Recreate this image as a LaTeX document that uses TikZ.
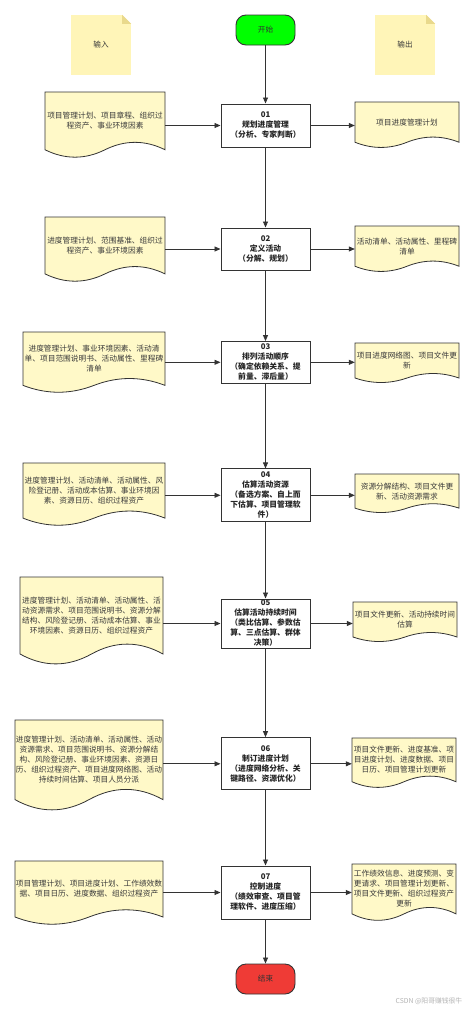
\documentclass[tikz,border=0pt]{standalone}
\usepackage{fontspec}
\setmainfont{Noto Sans CJK SC}
\usetikzlibrary{arrows.meta,calc}
\definecolor{linec}{HTML}{333333}
\definecolor{docfill}{HTML}{FFF9C8}
\definecolor{notefill}{HTML}{FFF5B8}
\definecolor{notefold}{HTML}{E9D98C}
\definecolor{txt}{HTML}{3A3A3A}
\definecolor{startfill}{HTML}{00FF00}
\definecolor{endfill}{HTML}{EF3B36}
\definecolor{wm}{HTML}{B4B4B4}
\tikzset{
  docshape/.style={draw=linec, fill=docfill, line width=0.8pt},
  doctext/.style={font=\fontsize{7.7}{10}\selectfont, text=txt, align=center, inner sep=0pt},
  procbox/.style={draw=linec, fill=white, line width=1pt, text=black!85,
    font=\bfseries\fontsize{7.8}{10}\selectfont, align=center, minimum width=89pt, inner sep=0pt},
  arr/.style={draw=linec, line width=0.8pt, -{Triangle[length=6pt,width=5pt]}},
  term/.style={rounded corners=10pt, draw=linec, line width=0.9pt, minimum width=59pt,
    minimum height=30pt, inner sep=0pt, text=linec, font=\fontsize{7.6}{10}\selectfont},
  notebox/.style={fill=notefill, minimum width=60pt, minimum height=60pt, inner sep=0pt,
    text=txt, font=\fontsize{7.6}{10}\selectfont},
}
% #1 name, #2 x0, #3 x1, #4 ytop, #5 ytrough, #6 text
\newcommand\docnode[6]{%
  \pgfmathsetmacro\dW{#3-#2}%
  \pgfmathsetmacro\dd{0.25*(#5-#4)}%
  \pgfmathsetmacro\ye{#5-\dd/2}%
  \pgfmathsetmacro\xm{(#2+#3)/2}%
  \pgfmathsetmacro\xq{#2+0.75*\dW}%
  \pgfmathsetmacro\xp{#2+0.25*\dW}%
  \pgfmathsetmacro\yup{#5-1.4*\dd}%
  \pgfmathsetmacro\ydn{#5+0.4*\dd}%
  \pgfmathsetmacro\ya{\ye+2/3*(\yup-\ye)}%
  \pgfmathsetmacro\yb{\ye+2/3*(\ydn-\ye)}%
  \pgfmathsetmacro\xa{#3+2/3*(\xq-#3)}%
  \pgfmathsetmacro\xb{\xm+2/3*(\xq-\xm)}%
  \pgfmathsetmacro\xc{\xm+2/3*(\xp-\xm)}%
  \pgfmathsetmacro\xd{#2+2/3*(\xp-#2)}%
  \pgfmathsetmacro\dh{\ye-#4}%
  \pgfmathsetmacro\yc{(#4+\ye)/2}%
  \draw[docshape] (#2,#4) -- (#3,#4) -- (#3,\ye)
     .. controls (\xa,\ya) and (\xb,\ya) .. (\xm,\ye)
     .. controls (\xc,\yb) and (\xd,\yb) .. (#2,\ye) -- cycle;
  \node[doctext, minimum width=\dW pt, minimum height=\dh pt] (#1) at (\xm,\yc) {#6};
}
\begin{document}
\begin{tikzpicture}[x=1pt,y=-1pt]
\useasboundingbox[fill=white] (0,0) rectangle (474,1009);

% notes
\node[notebox] (nin) at (101,45) {输入};
\node[notebox] (nout) at (405,45) {输出};
\foreach \n in {nin,nout}{
  \fill[white] (\n.north east) -- ++(-9,0) -- ++(9,9) -- cycle;
  \fill[notefold] (\n.north east) ++(-9,0) -- ++(0,9) -- ++(9,0) -- cycle;
}

% terminals
\node[term, fill=startfill] (start) at (265.5,30) {开始};
\node[term, fill=endfill] (end) at (265.5,979) {结束};

% process boxes
\node[procbox, minimum height=43pt] (p1) at (265.5,125.5) {01\\规划进度管理\\（分析、专家判断）};
\node[procbox, minimum height=42pt] (p2) at (265.5,249) {02\\定义活动\\（分解、规划）};
\node[procbox, minimum height=41.5pt] (p3) at (265.5,362.3) {03\\排列活动顺序\\（确定依赖关系、提\\前量、滞后量）};
\node[procbox, minimum height=52.7pt] (p4) at (265.5,495.3) {04\\估算活动资源\\（备选方案、自上而\\下估算、项目管理软\\件）};
\node[procbox, minimum height=49pt] (p5) at (265.5,623.5) {05\\估算活动持续时间\\（类比估算、参数估\\算、三点估算、群体\\决策）};
\node[procbox, minimum height=52.3pt] (p6) at (265.5,763.8) {06\\制订进度计划\\（进度网络分析、关\\键路径、资源优化）};
\node[procbox, minimum height=53pt] (p7) at (265.5,892.5) {07\\控制进度\\（绩效审查、项目管\\理软件、进度压缩）};

% inputs
\docnode{in1}{45}{165}{92}{158}{项目管理计划、项目章程、组织过\\程资产、事业环境因素}
\docnode{in2}{45}{165}{217}{282}{进度管理计划、范围基准、组织过\\程资产、事业环境因素}
\docnode{in3}{23}{165}{332}{393}{进度管理计划、事业环境因素、活动清\\单、项目范围说明书、活动属性、里程碑\\清单}
\docnode{in4}{23}{165}{463}{526}{进度管理计划、活动清单、活动属性、风\\险登记册、活动成本估算、事业环境因\\素、资源日历、组织过程资产}
\docnode{in5}{20}{163}{577}{665}{进度管理计划、活动清单、活动属性、活\\动资源需求、项目范围说明书、资源分解\\结构、风险登记册、活动成本估算、事业\\环境因素、资源日历、组织过程资产}
\docnode{in6}{15}{163}{720}{811}{进度管理计划、活动清单、活动属性、活动\\资源需求、项目范围说明书、资源分解结\\构、风险登记册、事业环境因素、资源日\\历、组织过程资产、项目进度网络图、活动\\持续时间估算、项目人员分派}
\docnode{in7}{15}{163}{861}{925}{项目管理计划、项目进度计划、工作绩效数\\据、项目日历、进度数据、组织过程资产}

% outputs
\docnode{out1}{355}{459}{102}{148}{项目进度管理计划}
\docnode{out2}{355}{459}{226}{272}{活动清单、活动属性、里程碑\\清单}
\docnode{out3}{355}{459}{343}{383}{项目进度网络图、项目文件更\\新}
\docnode{out4}{355}{459}{474}{513}{资源分解结构、项目文件更\\新、活动资源需求}
\docnode{out5}{353}{457}{602}{642}{项目文件更新、活动持续时间\\估算}
\docnode{out6}{352}{456}{738}{788}{项目文件更新、进度基准、项\\目进度计划、进度数据、项目\\日历、项目管理计划更新}
\docnode{out7}{352}{456}{864}{921}{工作绩效信息、进度预测、变\\更请求、项目管理计划更新、\\项目文件更新、组织过程资产\\更新}

% spine
\draw[arr] (start.south) -- (p1.north);
\draw[arr] (p1.south) -- (p2.north);
\draw[arr] (p2.south) -- (p3.north);
\draw[arr] (p3.south) -- (p4.north);
\draw[arr] (p4.south) -- (p5.north);
\draw[arr] (p5.south) -- (p6.north);
\draw[arr] (p6.south) -- (p7.north);
\draw[arr] (p7.south) -- (end.north);

% inputs / outputs connectors
\foreach \i in {1,...,7}{
  \draw[arr] (p\i.west -| in\i.east) -- (p\i.west);
  \draw[arr] (p\i.east) -- (p\i.east -| out\i.west);
}

% watermark
\node[text=wm, font=\fontsize{6.8}{8}\selectfont, inner sep=0pt] (wmk) at (429,1001.5) {CSDN @阳哥赚钱很牛};
\end{tikzpicture}
\end{document}
